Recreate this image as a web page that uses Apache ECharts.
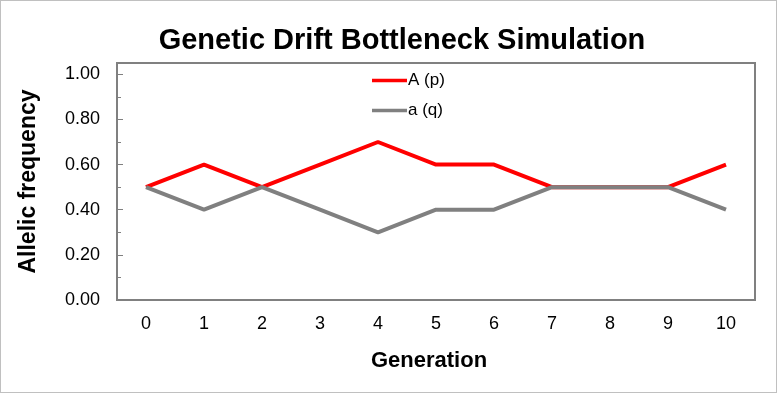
<!DOCTYPE html>
<html><head><meta charset="utf-8">
<script src="https://cdn.jsdelivr.net/npm/echarts@6/dist/echarts.min.js"></script>
<style>
html,body{margin:0;padding:0;background:#fff;}
#frame{position:absolute;left:0;top:0;width:777px;height:393px;box-sizing:border-box;border:1px solid #c0c0c0;}
#c{position:absolute;left:0;top:0;width:778px;height:394px;}
</style></head>
<body>
<div id="frame"></div>
<div id="c"></div>
<script>
var generations = ['0','1','2','3','4','5','6','7','8','9','10'];
var freqA = [0.5,0.6,0.5,0.6,0.7,0.6,0.6,0.5,0.5,0.5,0.6];
var freqa = [0.5,0.4,0.5,0.4,0.3,0.4,0.4,0.5,0.5,0.5,0.4];
var majorTicks = [0,0.2,0.4,0.6,0.8,1.0];
var minorTicks = [0.1,0.3,0.5,0.7,0.9];

var font = 'Liberation Sans, Arial, sans-serif';
var chart = echarts.init(document.getElementById('c'), null, {renderer:'canvas'});
chart.setOption({
  animation:false,
  backgroundColor:'transparent',
  title:{text:'Genetic Drift Bottleneck Simulation',left:397,textAlign:'center',top:21,
    textStyle:{fontFamily:font,fontSize:29,fontWeight:'bold',color:'#000'}},
  legend:{orient:'vertical',left:372,top:72,padding:0,itemWidth:35,itemHeight:16,itemGap:13,
    icon:'path://M0,0 L10,0 L10,1 L0,1 Z',
    textStyle:{fontFamily:font,fontSize:17,color:'#000',padding:[0,0,0,-4]},
    data:['A (p)','a (q)']},
  grid:{left:117,right:23,top:63,bottom:94,show:true,borderColor:'#808080',borderWidth:2},
  xAxis:{type:'category',data:generations,boundaryGap:true,
    axisLine:{show:true,lineStyle:{color:'#808080',width:2}},
    axisTick:{show:false},
    axisLabel:{margin:15,fontFamily:font,fontSize:18,color:'#000'},
    name:'Generation',nameLocation:'middle',nameGap:50,
    nameTextStyle:{fontFamily:font,fontSize:22,fontWeight:'bold',color:'#000',padding:[0,14,0,0]}},
  yAxis:[{type:'value',min:0,max:1.05,
    axisLine:{show:true,lineStyle:{color:'#808080',width:2}},
    axisTick:{show:true,inside:true,length:6,customValues:majorTicks,lineStyle:{color:'#808080',width:1}},
    axisLabel:{margin:17,fontFamily:font,fontSize:18,color:'#000',customValues:majorTicks,
      formatter:function(v){return v.toFixed(2);}},
    splitLine:{show:false},
    name:'Allelic frequency',nameLocation:'middle',nameGap:77,
    nameTextStyle:{fontFamily:font,fontSize:23,fontWeight:'bold',color:'#000'}},
   {type:'value',min:0,max:1.05,position:'left',
    axisLine:{show:false},
    axisTick:{show:true,inside:true,length:4,customValues:minorTicks,lineStyle:{color:'#808080',width:1}},
    axisLabel:{show:false},splitLine:{show:false}}],
  series:[
    {name:'A (p)',type:'line',data:freqA,symbol:'none',color:'#ff0000',lineStyle:{width:4,color:'#ff0000'}},
    {name:'a (q)',type:'line',data:freqa,symbol:'none',color:'#808080',lineStyle:{width:4,color:'#808080'}}
  ]
});
</script>
</body></html>
